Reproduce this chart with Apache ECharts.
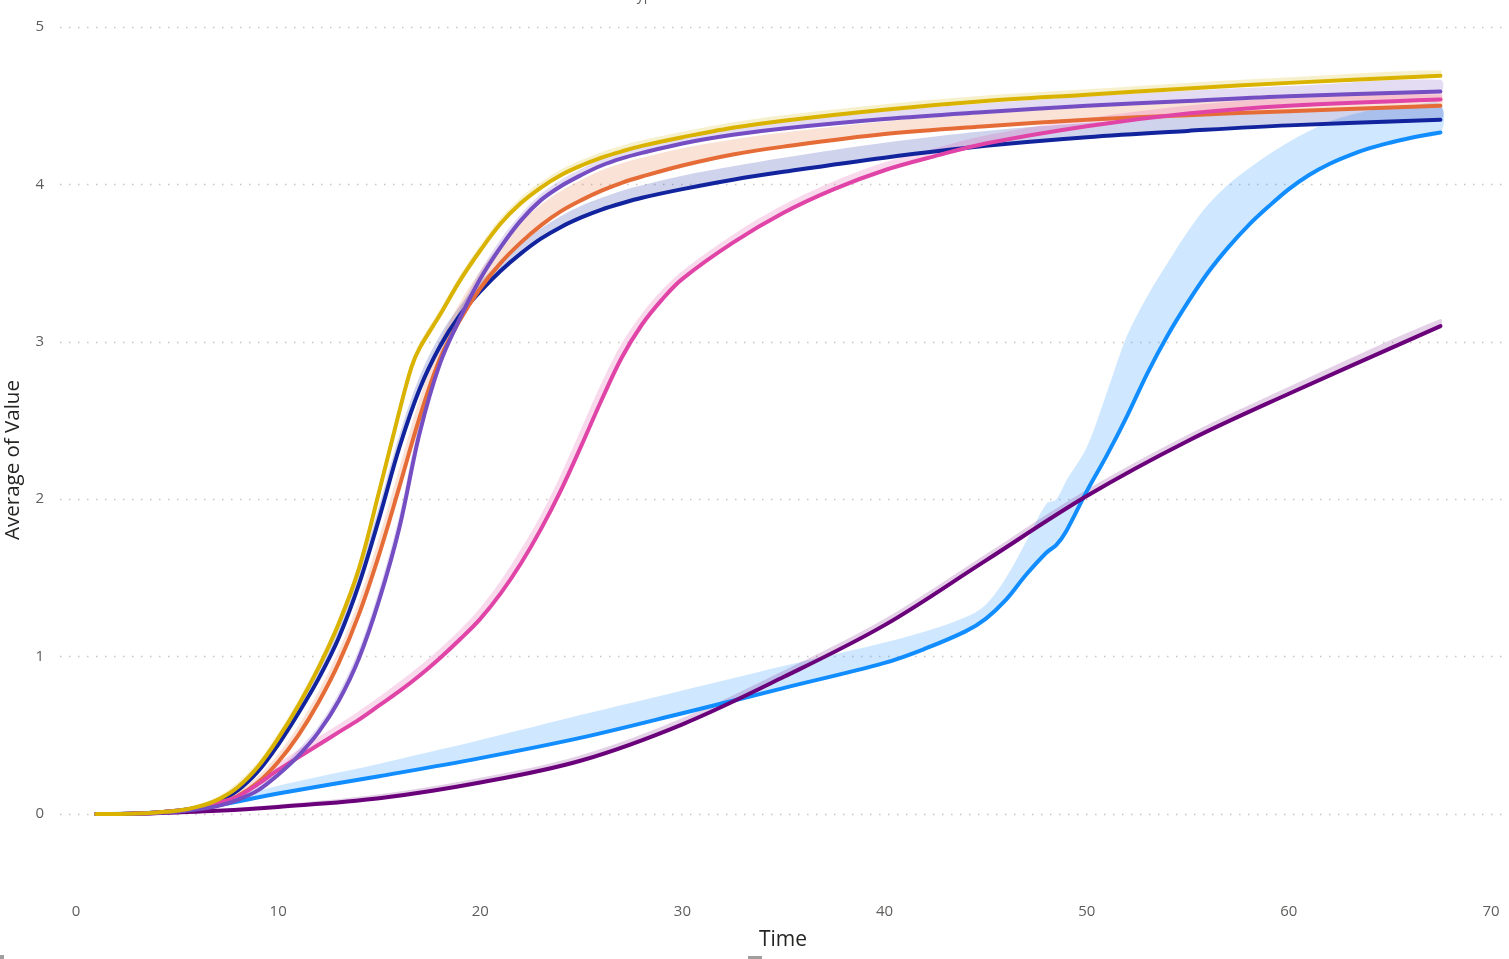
<!DOCTYPE html>
<html>
<head>
<meta charset="utf-8">
<script src="https://cdn.jsdelivr.net/npm/echarts@6/dist/echarts.min.js"></script>
<style>
html,body{margin:0;padding:0;background:#fff;}
#chart{width:1509px;height:959px;}
</style>
</head>
<body>
<div id="chart"></div>
<script>
// ---- data ----
const tEarly = [1,2,3,4,5,6,7,8,9,10,11,12,13,14,15,16,17,18,19,20,21,22,23,24,25,26,27,28, 30,32.5,35,40,45,50,55,60,67.5];
const tGold  = [1,2,3,4,5,6,7,8,9,10,11,12,13,14,15,16,16.6,17,18,19,20,21,22,23,24,25,26,27,28, 30,32.5,35,40,45,50,55,60,67.5];
const tPink  = [1,2,3,4,5,6,7,8,9,10,11,12,13,14,15,16,17,18,19,20,21,22,23,24,25,26,27,28,29,30, 32.5,35,37.5,40,42.5,45,50,55,60,67.5];
const tBlue  = [1,3,5,7,10,15,20,25,30,35,40,42,44,45,46,47,48,48.5,49,50,51,52,53,54,55,56,57,58,59,60,61,62,63,64,65,66,67.5];
const tPlum  = [1,3,5,7,10,15,20,25,30,35,40,45,50,55,60,67.5];

const goldLine  = [0,0,0.003,0.01,0.02,0.045,0.09,0.17,0.3,0.48,0.69,0.93,1.21,1.56,2.05,2.56,2.84,2.96,3.17,3.39,3.58,3.75,3.88,3.98,4.06,4.12,4.17,4.21,4.245, 4.3,4.36,4.405,4.475,4.53,4.57,4.61,4.645,4.69];
const goldUpper = [0,0,0.004,0.013,0.03,0.06,0.11,0.2,0.33,0.515,0.725,0.965,1.25,1.6,2.09,2.6,2.875,2.995,3.205,3.425,3.615,3.785,3.915,4.015,4.095,4.155,4.205,4.245,4.28, 4.335,4.395,4.44,4.51,4.565,4.605,4.645,4.68,4.725];

const navyLine  = [0,0,0.003,0.01,0.02,0.04,0.08,0.15,0.27,0.44,0.64,0.86,1.12,1.46,1.88,2.33,2.7,2.97,3.17,3.32,3.45,3.56,3.655,3.73,3.79,3.84,3.88,3.915, 3.97,4.03,4.08,4.17,4.245,4.3,4.34,4.375,4.41];
const navyUpper = [0,0,0.003,0.01,0.025,0.05,0.09,0.17,0.3,0.47,0.68,0.91,1.18,1.53,1.96,2.41,2.78,3.04,3.23,3.38,3.51,3.62,3.72,3.8,3.865,3.915,3.96,3.995, 4.055,4.115,4.17,4.265,4.34,4.39,4.43,4.46,4.49];

const orangeLine  = [0,0,0.003,0.01,0.02,0.035,0.065,0.115,0.2,0.33,0.5,0.71,0.96,1.27,1.65,2.08,2.52,2.89,3.14,3.34,3.5,3.63,3.74,3.83,3.9,3.96,4.01,4.05, 4.12,4.19,4.24,4.32,4.37,4.41,4.44,4.465,4.5];
const orangeUpper = [0,0,0.003,0.012,0.025,0.045,0.08,0.14,0.24,0.38,0.56,0.78,1.04,1.36,1.76,2.2,2.64,3.0,3.25,3.45,3.62,3.76,3.87,3.96,4.03,4.09,4.135,4.17, 4.23,4.285,4.33,4.4,4.45,4.49,4.52,4.545,4.57];

const violetLine  = [0,0,0.002,0.008,0.015,0.03,0.05,0.09,0.15,0.25,0.37,0.52,0.72,0.99,1.36,1.82,2.42,2.86,3.15,3.4,3.6,3.77,3.9,3.99,4.06,4.12,4.165,4.2, 4.26,4.315,4.355,4.415,4.46,4.5,4.53,4.56,4.59];
const violetUpper = [0,0,0.003,0.01,0.02,0.04,0.065,0.11,0.18,0.28,0.41,0.56,0.77,1.05,1.43,1.9,2.5,2.93,3.21,3.45,3.65,3.81,3.94,4.03,4.1,4.16,4.205,4.24, 4.3,4.36,4.4,4.465,4.515,4.56,4.595,4.625,4.665];

const pinkLine  = [0,0,0.003,0.01,0.02,0.04,0.07,0.11,0.19,0.28,0.36,0.44,0.52,0.6,0.69,0.78,0.88,0.99,1.11,1.24,1.4,1.59,1.81,2.06,2.34,2.63,2.9,3.11,3.27,3.4, 3.63,3.82,3.97,4.09,4.18,4.26,4.37,4.45,4.5,4.54];
const pinkUpper = [0,0,0.004,0.013,0.027,0.05,0.085,0.13,0.22,0.32,0.41,0.49,0.57,0.655,0.745,0.84,0.94,1.05,1.17,1.31,1.48,1.68,1.9,2.16,2.45,2.74,2.99,3.18,3.33,3.45, 3.68,3.87,4.02,4.14,4.23,4.31,4.42,4.5,4.55,4.59];

const blueLine  = [0,0.003,0.02,0.055,0.13,0.24,0.355,0.485,0.64,0.8,0.96,1.05,1.16,1.24,1.36,1.52,1.66,1.71,1.8,2.05,2.28,2.53,2.8,3.04,3.25,3.44,3.6,3.74,3.86,3.97,4.06,4.13,4.185,4.23,4.265,4.295,4.33];
const blueUpper = [0,0.003,0.025,0.075,0.18,0.32,0.47,0.63,0.785,0.94,1.09,1.16,1.25,1.33,1.5,1.73,1.97,2.0,2.12,2.33,2.68,3.04,3.29,3.5,3.7,3.87,4.0,4.1,4.19,4.27,4.34,4.4,4.44,4.47,4.49,4.5,4.51];

const plumLine  = [0,0.002,0.01,0.02,0.045,0.1,0.2,0.34,0.57,0.87,1.2,1.61,2.02,2.37,2.67,3.1];
const plumUpper = [0,0.003,0.015,0.03,0.06,0.125,0.23,0.375,0.61,0.91,1.24,1.65,2.06,2.41,2.715,3.145];

const xTicks = [0, 70, 10];   // min, max, interval
const yTicks = [0, 5, 1];

// ---- series definitions (bottom -> top) ----
const groups = [
  {color:'#118DFF', t:tBlue,  line:blueLine,   upper:blueUpper,   alpha:0.2},
  {color:'#6B007B', t:tPlum,  line:plumLine,   upper:plumUpper,   alpha:0.18},
  {color:'#12239E', t:tEarly, line:navyLine,   upper:navyUpper,   alpha:0.2},
  {color:'#E66C37', t:tEarly, line:orangeLine, upper:orangeUpper, alpha:0.2},
  {color:'#E044A7', t:tPink,  line:pinkLine,   upper:pinkUpper,   alpha:0.2},
  {color:'#744EC2', t:tEarly, line:violetLine, upper:violetUpper, alpha:0.2},
  {color:'#D9B300', t:tGold,  line:goldLine,   upper:goldUpper,   alpha:0.2}
];
const SMOOTH = 0.35;

function hexA(hex, a){
  const r=parseInt(hex.slice(1,3),16),g=parseInt(hex.slice(3,5),16),b=parseInt(hex.slice(5,7),16);
  return 'rgba('+r+','+g+','+b+','+a+')';
}

const series = [];
groups.forEach(function(gr){
  series.push({
    type:'custom', xAxisIndex:0, yAxisIndex:0, z:1, silent:true,
    data: gr.t.map(function(t,i){return [t, gr.line[i], gr.upper[i]];}),
    renderItem: function(params, api){
      if (params.dataIndex !== 0) return null;
      const n = gr.t.length;
      const up = [], lo = [];
      for (let i=0;i<n;i++){ up.push(api.coord([gr.t[i], gr.upper[i]])); lo.push(api.coord([gr.t[i], gr.line[i]])); }
      lo.reverse();
      return {type:'group', children:[
        {type:'polygon', shape:{points:up.concat(lo), smooth:SMOOTH}, style:{fill:hexA(gr.color, gr.alpha), stroke:null}}
      ]};
    }
  });
});
groups.forEach(function(gr){
  series.push({
    type:'line', xAxisIndex:0, yAxisIndex:0, z:3, silent:true,
    data: gr.t.map(function(t,i){return [t, gr.line[i]];}),
    smooth:SMOOTH, showSymbol:false, clip:false,
    lineStyle:{color:gr.color, width:4, cap:'round', join:'round'},
    emphasis:{disabled:true}
  });
});

const FONT = '"Segoe UI", "Open Sans", "Noto Sans", sans-serif';
const chart = echarts.init(document.getElementById('chart'), null, {renderer:'canvas'});
chart.setOption({
  animation:false,
  backgroundColor:'#ffffff',
  grid:[
    {left:76, right:18, top:27, bottom:145},
    {left:60, right:0, top:27, bottom:145}
  ],
  xAxis:[
    {type:'value', gridIndex:0, min:xTicks[0], max:xTicks[1], interval:xTicks[2],
     axisLine:{show:false}, axisTick:{show:false}, splitLine:{show:false},
     axisLabel:{margin:90, color:'#605E5C', fontSize:15, fontFamily:FONT}},
    {type:'value', gridIndex:1, min:0, max:1, show:false}
  ],
  yAxis:[
    {type:'value', gridIndex:0, min:yTicks[0], max:yTicks[1], interval:yTicks[2],
     axisLabel:{show:false}, axisLine:{show:false}, axisTick:{show:false}, splitLine:{show:false}},
    {type:'value', gridIndex:1, min:yTicks[0], max:yTicks[1], interval:yTicks[2],
     axisLine:{show:false}, axisTick:{show:false},
     axisLabel:{margin:16, color:'#605E5C', fontSize:15, fontFamily:FONT},
     splitLine:{show:true, lineStyle:{color:'#C8C6C4', width:1.3, type:[1.5,7.5]}}}
  ],
  graphic:[
    {type:'text', x:13, y:460, rotation:Math.PI/2,
     style:{text:'Average of Value', fill:'#252423', font:'20.5px '+FONT, align:'center', verticalAlign:'middle'}},
    {type:'text', x:783, y:940,
     style:{text:'Time', fill:'#252423', font:'21px '+FONT, align:'center', verticalAlign:'middle'}},
    {type:'text', x:629, y:3,
     style:{text:'Type', fill:'#605E5C', font:'14px '+FONT, align:'left', verticalAlign:'bottom'}},
    {type:'rect', shape:{x:748, y:956, width:14, height:3}, style:{fill:'#A19F9D'}},
    {type:'rect', shape:{x:0, y:955, width:4, height:4}, style:{fill:'#A19F9D'}}
  ],
  series: series
});
</script>
</body>
</html>
